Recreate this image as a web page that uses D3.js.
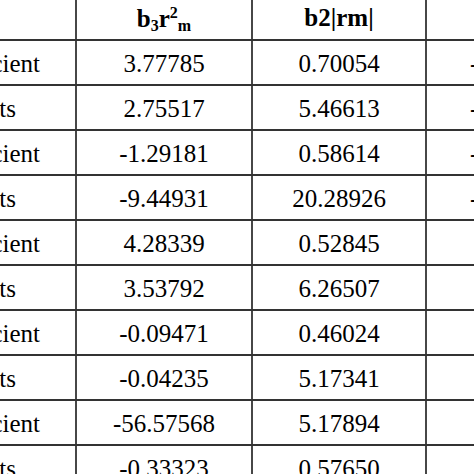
<!DOCTYPE html>
<html><head><meta charset="utf-8">
<script src="https://cdn.jsdelivr.net/npm/d3@7"></script>
<style>body{margin:0;background:#fff}</style>
</head><body>
<svg id="t" width="474" height="474"></svg>
<script>
const rowLabels = ['Coefficient', 't-Stats', 'Coefficient', 't-Stats', 'Coefficient',
  't-Stats', 'Coefficient', 't-Stats', 'Coefficient', 't-Stats'];
const colB3 = ['3.77785', '2.75517', '-1.29181', '-9.44931', '4.28339',
  '3.53792', '-0.09471', '-0.04235', '-56.57568', '-0.33323'];
const colB2 = ['0.70054', '5.46613', '0.58614', '20.28926', '0.52845',
  '6.26507', '0.46024', '5.17341', '5.17894', '0.57650'];
const colNext = ['-', '-', '-', '-', '', '', '', '', '', ''];

const svg = d3.select('#t');
const font = '"Liberation Serif", "Times New Roman", serif';
const y = d3.scaleLinear().domain([0, 1]).range([40, 85]);
const lineColor = '#333';

// horizontal rules
d3.range(0, rowLabels.length + 1).forEach(i => {
  svg.append('line').attr('x1', 0).attr('x2', 474)
    .attr('y1', y(i)).attr('y2', y(i))
    .attr('stroke', lineColor).attr('stroke-width', 1.8);
});
// vertical rules
[76, 252, 426].forEach(x => {
  svg.append('line').attr('x1', x).attr('x2', x).attr('y1', 0).attr('y2', 474)
    .attr('stroke', lineColor).attr('stroke-width', 1.8);
});

// header
const h1 = svg.append('text').attr('x', 164).attr('y', 27).attr('text-anchor', 'middle')
  .attr('font-family', font).attr('font-weight', 'bold').attr('font-size', 25).attr('fill', '#000');
h1.append('tspan').text('b');
h1.append('tspan').text('3').attr('font-size', 16).attr('dy', 4);
h1.append('tspan').text('r').attr('dy', -4);
h1.append('tspan').text('2').attr('font-size', 16).attr('dy', -9);
h1.append('tspan').text('m').attr('font-size', 16).attr('dy', 13);
svg.append('text').attr('x', 339).attr('y', 26).attr('text-anchor', 'middle')
  .attr('font-family', font).attr('font-weight', 'bold').attr('font-size', 25).attr('fill', '#000')
  .text('b2|rm|');

const cell = (arr, x, anchor) => svg.selectAll(null).data(arr).enter().append('text')
  .attr('x', x).attr('y', (d, i) => y(i + 0.5) + 9)
  .attr('text-anchor', anchor).attr('font-family', font).attr('font-size', 25)
  .attr('fill', '#000').text(d => d);

svg.selectAll(null).data(rowLabels).enter().append('text')
  .attr('x', d => d === 'Coefficient' ? 40 : 16).attr('y', (d, i) => y(i + 0.5) + 9)
  .attr('text-anchor', 'end').attr('font-family', font).attr('font-size', 25)
  .attr('fill', '#000').text(d => d);
cell(colB3, 164, 'middle');
cell(colB2, 339, 'middle');
cell(colNext, 470, 'start');
</script>
</body></html>
